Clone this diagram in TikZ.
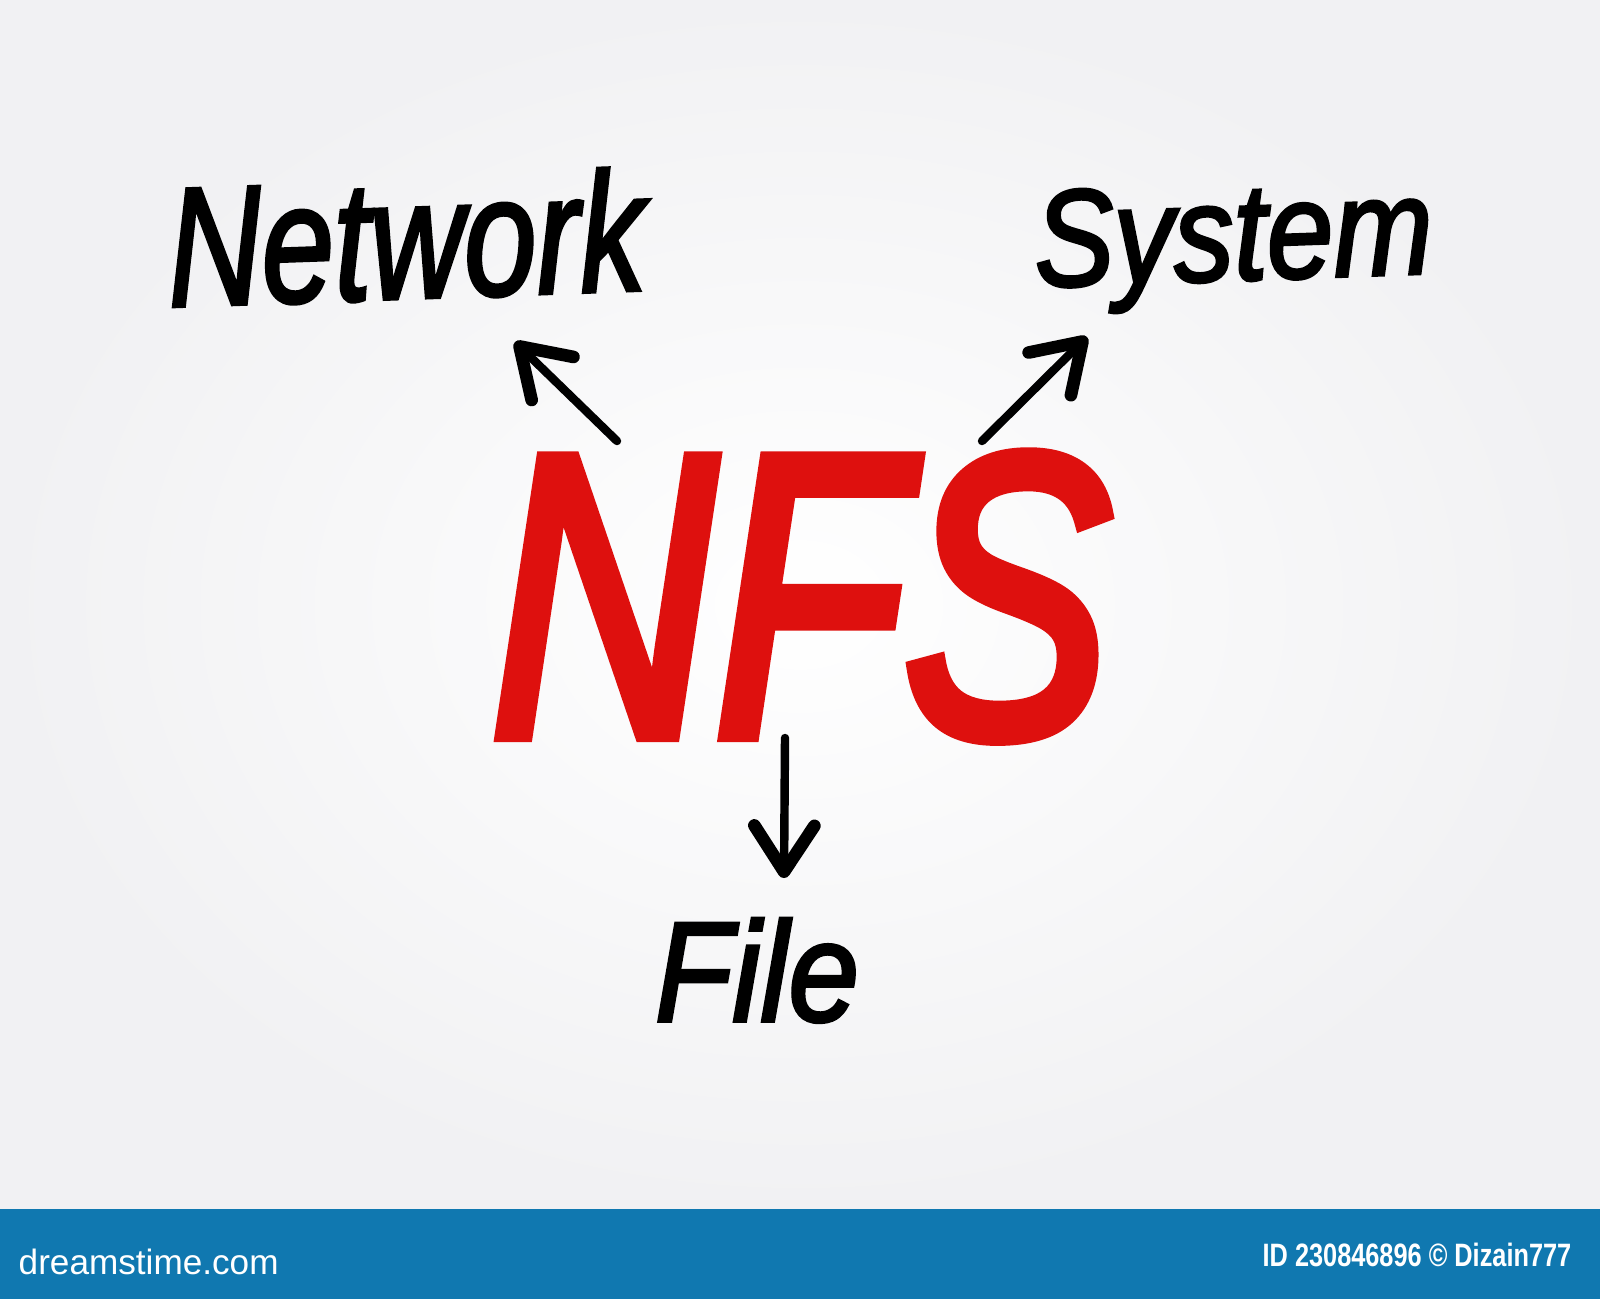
\documentclass[tikz,border=0pt]{standalone}
\usepackage{fontspec}
\setmainfont{Liberation Sans}
\newfontfamily\handfont{Liberation Sans Italic}[FakeBold=2.5]
\newfontfamily\bigfont{Liberation Sans Italic}[FakeBold=4]
\usetikzlibrary{arrows.meta}
\definecolor{nfsred}{RGB}{222,16,14}
\definecolor{barblue}{RGB}{16,120,176}
\definecolor{bgedge}{RGB}{241,241,243}
\tikzset{
  word/.style={anchor=base, inner sep=0pt, text=black, font=\handfont},
  pointer/.style={draw=black, line width=2.4pt, line cap=round, line join=round,
    -{Straight Barb[length=4.6mm, width=6mm, line width=3.6pt, round]}},
}
\begin{document}
\begin{tikzpicture}[x=0.01cm, y=-0.01cm]
\useasboundingbox (0,0) rectangle (1600,1299);
\shade[inner color=white, outer color=bgedge] (0,0) rectangle (1600,1209);
\fill[barblue] (0,1209) rectangle (1600,1299);

\node[word, rotate=2] (net) at (408,298) {\fontsize{37}{42}\selectfont\scalebox{1}[1.3]{Network}};
\node[word, rotate=2] (sys) at (1235,280) {\fontsize{34}{40}\selectfont\scalebox{1}[1.15]{System}};
\node[word, text=nfsred, font=\bigfont] (nfs) at (801,734) {\fontsize{88}{96}\selectfont\scalebox{1}[1.29]{NFS}};
\node[word] (file) at (757,1021) {\fontsize{36}{42}\selectfont\scalebox{1}[1.12]{File}};

\coordinate (a1s) at (617,441);
\coordinate (a1e) at (515,342);
\coordinate (a2s) at (982,441);
\coordinate (a2e) at (1087,337);
\coordinate (a3s) at (785,738);
\coordinate (a3e) at (784,878);
\draw[pointer] (a1s) -- (a1e);
\draw[pointer] (a2s) -- (a2e);
\draw[pointer] (a3s) -- (a3e);

\node[anchor=west, inner sep=0pt, text=white] (brand) at (18,1262) {\fontsize{10}{12}\selectfont dreamstime.com};
\node[anchor=east, inner sep=0pt, text=white] (credit) at (1572,1255) {\fontsize{8}{10}\selectfont\bfseries\scalebox{0.9}[1.15]{ID 230846896 © Dizain777}};
\end{tikzpicture}
\end{document}
